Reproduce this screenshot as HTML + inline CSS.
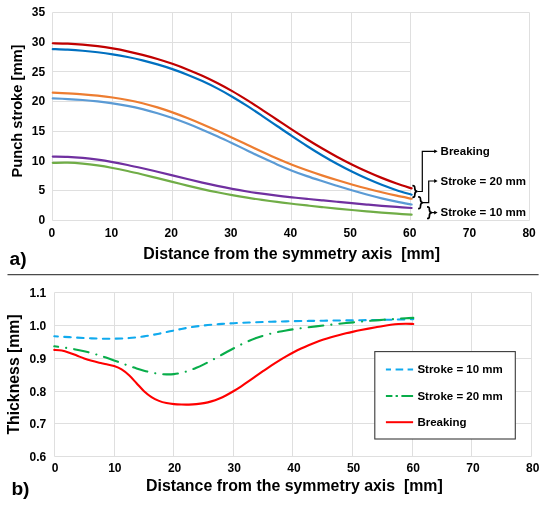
<!DOCTYPE html>
<html><head><meta charset="utf-8"><title>Figure</title>
<style>
html,body{margin:0;padding:0;background:#fff;}
body{width:550px;height:508px;overflow:hidden;}
svg{display:block;}
text{font-family:"Liberation Sans",Arial,sans-serif;font-weight:bold;fill:#000;}
.tk{font-size:12px;}
.an{font-size:11.5px;}
</style></head><body>
<svg width="550" height="508" viewBox="0 0 550 508">
<rect x="0" y="0" width="550" height="508" fill="#fff"/>

<g stroke="#DFDFDF" stroke-width="1" fill="none">
<line x1="112.50" y1="12.50" x2="112.50" y2="220.50"/>
<line x1="172.50" y1="12.50" x2="172.50" y2="220.50"/>
<line x1="231.50" y1="12.50" x2="231.50" y2="220.50"/>
<line x1="291.50" y1="12.50" x2="291.50" y2="220.50"/>
<line x1="351.50" y1="12.50" x2="351.50" y2="220.50"/>
<line x1="410.50" y1="12.50" x2="410.50" y2="220.50"/>
<line x1="52.50" y1="220.50" x2="529.50" y2="220.50"/>
<line x1="52.50" y1="190.50" x2="410.50" y2="190.50"/>
<line x1="52.50" y1="161.50" x2="410.50" y2="161.50"/>
<line x1="52.50" y1="131.50" x2="410.50" y2="131.50"/>
<line x1="52.50" y1="101.50" x2="410.50" y2="101.50"/>
<line x1="52.50" y1="71.50" x2="410.50" y2="71.50"/>
<line x1="52.50" y1="42.50" x2="410.50" y2="42.50"/>
<line x1="52.50" y1="12.50" x2="529.50" y2="12.50"/>
<line x1="52.50" y1="12.50" x2="52.50" y2="220.50"/>
<line x1="529.50" y1="12.50" x2="529.50" y2="220.50"/>
</g>
<g fill="none" stroke-width="2.2" stroke-linecap="round" stroke-linejoin="round">
<path d="M52.80,162.86 C55.29,162.84 62.77,162.59 67.75,162.72 C72.73,162.85 77.72,163.19 82.70,163.64 C87.68,164.09 92.67,164.72 97.65,165.44 C102.63,166.16 107.62,167.03 112.60,167.96 C117.58,168.89 122.57,169.94 127.55,171.02 C132.53,172.11 137.52,173.29 142.50,174.47 C147.48,175.66 152.47,176.90 157.45,178.13 C162.43,179.37 167.41,180.64 172.40,181.87 C177.38,183.11 182.36,184.36 187.35,185.56 C192.33,186.76 197.31,187.94 202.30,189.06 C207.28,190.18 212.26,191.25 217.25,192.26 C222.23,193.27 227.21,194.23 232.20,195.13 C237.18,196.04 242.16,196.88 247.15,197.68 C252.13,198.48 257.11,199.22 262.10,199.93 C267.08,200.65 272.06,201.31 277.05,201.95 C282.03,202.59 287.01,203.19 292.00,203.78 C296.98,204.36 301.96,204.91 306.95,205.46 C311.93,206.00 316.91,206.52 321.90,207.04 C326.88,207.56 331.86,208.07 336.85,208.56 C341.83,209.06 346.81,209.54 351.80,210.01 C356.78,210.48 361.76,210.93 366.75,211.36 C371.73,211.80 376.71,212.21 381.70,212.60 C386.68,212.99 391.66,213.36 396.64,213.69 C401.63,214.03 409.10,214.47 411.59,214.62" stroke="#70AD47"/>
<path d="M52.80,156.54 C55.29,156.59 62.77,156.58 67.75,156.81 C72.73,157.04 77.72,157.42 82.70,157.91 C87.68,158.39 92.67,159.01 97.65,159.71 C102.63,160.42 107.62,161.24 112.60,162.12 C117.58,163.00 122.57,163.98 127.55,165.00 C132.53,166.02 137.52,167.13 142.50,168.25 C147.48,169.37 152.47,170.56 157.45,171.75 C162.43,172.93 167.41,174.16 172.40,175.37 C177.38,176.59 182.36,177.82 187.35,179.02 C192.33,180.22 197.31,181.42 202.30,182.56 C207.28,183.71 212.26,184.84 217.25,185.89 C222.23,186.95 227.21,187.96 232.20,188.89 C237.18,189.82 242.16,190.68 247.15,191.48 C252.13,192.28 257.11,193.01 262.10,193.69 C267.08,194.38 272.06,195.01 277.05,195.62 C282.03,196.22 287.01,196.77 292.00,197.31 C296.98,197.85 301.96,198.36 306.95,198.86 C311.93,199.36 316.91,199.85 321.90,200.33 C326.88,200.82 331.86,201.30 336.85,201.78 C341.83,202.26 346.81,202.73 351.80,203.19 C356.78,203.65 361.76,204.11 366.75,204.54 C371.73,204.98 376.71,205.41 381.70,205.81 C386.68,206.21 391.66,206.60 396.64,206.96 C401.63,207.32 409.10,207.81 411.59,207.98" stroke="#7030A0"/>
<path d="M52.80,98.34 C55.29,98.46 62.77,98.76 67.75,99.03 C72.73,99.31 77.72,99.62 82.70,100.01 C87.68,100.41 92.67,100.85 97.65,101.39 C102.63,101.94 107.62,102.55 112.60,103.29 C117.58,104.02 122.57,104.85 127.55,105.81 C132.53,106.78 137.52,107.86 142.50,109.09 C147.48,110.32 152.47,111.70 157.45,113.19 C162.43,114.69 167.41,116.33 172.40,118.06 C177.38,119.79 182.36,121.65 187.35,123.59 C192.33,125.53 197.31,127.58 202.30,129.69 C207.28,131.81 212.26,134.01 217.25,136.27 C222.23,138.52 227.21,140.86 232.20,143.22 C237.18,145.57 242.16,148.01 247.15,150.40 C252.13,152.79 257.11,155.23 262.10,157.57 C267.08,159.90 272.06,162.23 277.05,164.41 C282.03,166.59 287.01,168.70 292.00,170.65 C296.98,172.60 301.96,174.37 306.95,176.10 C311.93,177.84 316.91,179.44 321.90,181.06 C326.88,182.67 331.86,184.25 336.85,185.80 C341.83,187.34 346.81,188.85 351.80,190.31 C356.78,191.76 361.76,193.17 366.75,194.51 C371.73,195.84 376.71,197.13 381.70,198.32 C386.68,199.52 391.66,200.65 396.64,201.67 C401.63,202.70 409.10,204.01 411.59,204.47" stroke="#5B9BD5"/>
<path d="M52.80,92.64 C55.29,92.77 62.77,93.10 67.75,93.38 C72.73,93.67 77.72,93.96 82.70,94.34 C87.68,94.73 92.67,95.14 97.65,95.67 C102.63,96.20 107.62,96.78 112.60,97.50 C117.58,98.22 122.57,99.02 127.55,99.98 C132.53,100.94 137.52,102.02 142.50,103.25 C147.48,104.49 152.47,105.89 157.45,107.41 C162.43,108.93 167.41,110.61 172.40,112.37 C177.38,114.14 182.36,116.04 187.35,118.01 C192.33,119.98 197.31,122.07 202.30,124.20 C207.28,126.34 212.26,128.56 217.25,130.82 C222.23,133.07 227.21,135.40 232.20,137.73 C237.18,140.06 242.16,142.45 247.15,144.80 C252.13,147.15 257.11,149.52 262.10,151.81 C267.08,154.10 272.06,156.38 277.05,158.53 C282.03,160.69 287.01,162.78 292.00,164.74 C296.98,166.70 301.96,168.52 306.95,170.29 C311.93,172.05 316.91,173.70 321.90,175.33 C326.88,176.95 331.86,178.52 336.85,180.04 C341.83,181.56 346.81,183.03 351.80,184.44 C356.78,185.86 361.76,187.22 366.75,188.53 C371.73,189.83 376.71,191.08 381.70,192.27 C386.68,193.47 391.66,194.60 396.64,195.68 C401.63,196.75 409.10,198.21 411.59,198.72" stroke="#ED7D31"/>
<path d="M52.80,49.09 C55.29,49.19 62.77,49.43 67.75,49.70 C72.73,49.98 77.72,50.32 82.70,50.75 C87.68,51.18 92.67,51.68 97.65,52.28 C102.63,52.89 107.62,53.57 112.60,54.36 C117.58,55.15 122.57,56.03 127.55,57.02 C132.53,58.02 137.52,59.11 142.50,60.33 C147.48,61.55 152.47,62.88 157.45,64.34 C162.43,65.80 167.41,67.37 172.40,69.09 C177.38,70.81 182.36,72.66 187.35,74.65 C192.33,76.65 197.31,78.78 202.30,81.07 C207.28,83.36 212.26,85.79 217.25,88.39 C222.23,90.99 227.21,93.76 232.20,96.68 C237.18,99.60 242.16,102.72 247.15,105.91 C252.13,109.10 257.11,112.45 262.10,115.80 C267.08,119.15 272.06,122.60 277.05,126.00 C282.03,129.39 287.01,132.84 292.00,136.17 C296.98,139.50 301.96,142.81 306.95,145.99 C311.93,149.17 316.91,152.28 321.90,155.25 C326.88,158.22 331.86,161.08 336.85,163.80 C341.83,166.52 346.81,169.12 351.80,171.58 C356.78,174.05 361.76,176.38 366.75,178.58 C371.73,180.79 376.71,182.86 381.70,184.79 C386.68,186.72 391.66,188.52 396.64,190.17 C401.63,191.82 409.10,193.95 411.59,194.71" stroke="#0070C0"/>
<path d="M52.80,43.26 C55.29,43.31 62.77,43.39 67.75,43.61 C72.73,43.83 77.72,44.16 82.70,44.59 C87.68,45.02 92.67,45.56 97.65,46.20 C102.63,46.84 107.62,47.59 112.60,48.44 C117.58,49.30 122.57,50.26 127.55,51.32 C132.53,52.38 137.52,53.55 142.50,54.83 C147.48,56.11 152.47,57.48 157.45,58.98 C162.43,60.48 167.41,62.09 172.40,63.83 C177.38,65.57 182.36,67.42 187.35,69.41 C192.33,71.41 197.31,73.53 202.30,75.79 C207.28,78.06 212.26,80.46 217.25,83.02 C222.23,85.58 227.21,88.30 232.20,91.15 C237.18,94.01 242.16,97.06 247.15,100.17 C252.13,103.28 257.11,106.54 262.10,109.80 C267.08,113.07 272.06,116.43 277.05,119.74 C282.03,123.04 287.01,126.39 292.00,129.64 C296.98,132.89 301.96,136.12 306.95,139.23 C311.93,142.34 316.91,145.39 321.90,148.30 C326.88,151.22 331.86,154.04 336.85,156.74 C341.83,159.43 346.81,162.02 351.80,164.49 C356.78,166.95 361.76,169.31 366.75,171.54 C371.73,173.78 376.71,175.90 381.70,177.89 C386.68,179.89 391.66,181.77 396.64,183.52 C401.63,185.28 409.10,187.61 411.59,188.42" stroke="#C00000"/>
</g>
<g class="tk" text-anchor="end">
<text x="45.2" y="224.20">0</text>
<text x="45.2" y="194.48">5</text>
<text x="45.2" y="164.76">10</text>
<text x="45.2" y="135.04">15</text>
<text x="45.2" y="105.31">20</text>
<text x="45.2" y="75.59">25</text>
<text x="45.2" y="45.87">30</text>
<text x="45.2" y="16.15">35</text>
</g>
<g class="tk" text-anchor="middle">
<text x="51.90" y="237.3">0</text>
<text x="111.55" y="237.3">10</text>
<text x="171.20" y="237.3">20</text>
<text x="230.85" y="237.3">30</text>
<text x="290.50" y="237.3">40</text>
<text x="350.15" y="237.3">50</text>
<text x="409.80" y="237.3">60</text>
<text x="469.45" y="237.3">70</text>
<text x="529.10" y="237.3">80</text>
</g>
<text transform="translate(21.5,177.6) rotate(-90)" font-size="14.7">Punch stroke [mm]</text>
<text x="143.3" y="258.6" font-size="15.9" xml:space="preserve" style="white-space:pre">Distance from the symmetry axis  [mm]</text>
<text x="9.5" y="265.4" font-size="19.2">a)</text>
<g class="an">
<text x="440.6" y="155">Breaking</text>
<text x="440.6" y="185.4">Stroke = 20 mm</text>
<text x="440.6" y="216.4">Stroke = 10 mm</text>
</g>
<g fill="none" stroke="#000" stroke-width="1.2" stroke-linejoin="miter">
<path d="M412.40,185.60 C414.80,185.60 414.80,186.56 414.80,188.80 L414.80,188.25 C414.80,190.49 415.90,191.45 417.40,191.45 C415.90,191.45 414.80,192.41 414.80,194.65 L414.80,194.10 C414.80,196.34 414.80,197.30 412.40,197.30" stroke-width="1.7"/>
<path d="M418.10,196.90 C420.50,196.90 420.50,197.86 420.50,200.10 L420.50,199.55 C420.50,201.79 421.60,202.75 423.10,202.75 C421.60,202.75 420.50,203.71 420.50,205.95 L420.50,205.40 C420.50,207.64 420.50,208.60 418.10,208.60" stroke-width="1.7"/>
<path d="M427.00,206.80 C429.40,206.80 429.40,207.76 429.40,210.00 L429.40,209.45 C429.40,211.69 430.50,212.65 432.00,212.65 C430.50,212.65 429.40,213.61 429.40,215.85 L429.40,215.30 C429.40,217.54 429.40,218.50 427.00,218.50" stroke-width="1.7"/>
<path d="M417.2,191.5 H422.3 V151.3 H435"/>
<path d="M422.9,202.7 H428.7 V181.0 H435"/>
<path d="M431.8,212.6 H435"/>
</g>
<g fill="#000" stroke="none">
<path d="M437.6,151.30 l-3.4,-1.9 v3.8 z"/>
<path d="M437.6,181.00 l-3.4,-1.9 v3.8 z"/>
<path d="M437.6,212.60 l-3.4,-1.9 v3.8 z"/>
</g>
<line x1="7.5" y1="274.6" x2="538.6" y2="274.6" stroke="#4a4a4a" stroke-width="1.1"/>
<g stroke="#DFDFDF" stroke-width="1" fill="none">
<line x1="54.50" y1="292.50" x2="54.50" y2="456.50"/>
<line x1="114.50" y1="292.50" x2="114.50" y2="456.50"/>
<line x1="173.50" y1="292.50" x2="173.50" y2="456.50"/>
<line x1="233.50" y1="292.50" x2="233.50" y2="456.50"/>
<line x1="292.50" y1="292.50" x2="292.50" y2="456.50"/>
<line x1="352.50" y1="292.50" x2="352.50" y2="456.50"/>
<line x1="412.50" y1="292.50" x2="412.50" y2="456.50"/>
<line x1="471.50" y1="292.50" x2="471.50" y2="456.50"/>
<line x1="531.50" y1="292.50" x2="531.50" y2="456.50"/>
<line x1="54.50" y1="456.50" x2="531.50" y2="456.50"/>
<line x1="54.50" y1="423.50" x2="531.50" y2="423.50"/>
<line x1="54.50" y1="391.50" x2="531.50" y2="391.50"/>
<line x1="54.50" y1="358.50" x2="531.50" y2="358.50"/>
<line x1="54.50" y1="325.50" x2="531.50" y2="325.50"/>
<line x1="54.50" y1="292.50" x2="531.50" y2="292.50"/>
</g>
<g fill="none" stroke-width="2.1" stroke-linecap="round" stroke-linejoin="round">
<path d="M54.30,336.32 C55.55,336.39 59.29,336.59 61.78,336.73 C64.27,336.86 66.76,337.02 69.26,337.16 C71.75,337.31 74.24,337.46 76.74,337.60 C79.23,337.74 81.72,337.88 84.21,338.00 C86.71,338.13 89.20,338.25 91.69,338.35 C94.19,338.45 96.68,338.53 99.17,338.60 C101.66,338.66 104.16,338.71 106.65,338.72 C109.14,338.74 111.64,338.74 114.13,338.69 C116.62,338.65 119.11,338.59 121.61,338.48 C124.10,338.37 126.59,338.23 129.09,338.04 C131.58,337.86 134.07,337.64 136.57,337.36 C139.06,337.09 141.55,336.77 144.04,336.40 C146.54,336.03 149.03,335.60 151.52,335.14 C154.02,334.69 156.51,334.18 159.00,333.67 C161.49,333.16 163.99,332.62 166.48,332.09 C168.97,331.55 171.47,331.00 173.96,330.47 C176.45,329.95 178.94,329.42 181.44,328.93 C183.93,328.44 186.42,327.97 188.92,327.55 C191.41,327.13 193.90,326.75 196.39,326.40 C198.89,326.06 201.38,325.75 203.87,325.47 C206.37,325.19 208.86,324.95 211.35,324.73 C213.84,324.50 216.34,324.31 218.83,324.12 C221.32,323.94 223.82,323.78 226.31,323.63 C228.80,323.48 231.29,323.35 233.79,323.22 C236.28,323.09 238.77,322.96 241.27,322.85 C243.76,322.73 246.25,322.62 248.74,322.52 C251.24,322.41 253.73,322.31 256.22,322.22 C258.72,322.13 261.21,322.04 263.70,321.96 C266.20,321.88 268.69,321.80 271.18,321.73 C273.67,321.66 276.17,321.59 278.66,321.52 C281.15,321.46 283.65,321.40 286.14,321.34 C288.63,321.29 291.12,321.24 293.62,321.18 C296.11,321.13 298.60,321.09 301.10,321.04 C303.59,321.00 306.08,320.96 308.57,320.92 C311.07,320.88 313.56,320.84 316.05,320.80 C318.55,320.77 321.04,320.73 323.53,320.70 C326.02,320.67 328.52,320.63 331.01,320.60 C333.50,320.57 336.00,320.54 338.49,320.51 C340.98,320.48 343.47,320.45 345.97,320.41 C348.46,320.38 350.95,320.35 353.45,320.32 C355.94,320.28 358.43,320.25 360.92,320.21 C363.42,320.18 365.91,320.14 368.40,320.10 C370.90,320.06 373.39,320.02 375.88,319.98 C378.37,319.94 380.87,319.89 383.36,319.84 C385.85,319.80 388.35,319.74 390.84,319.69 C393.33,319.63 395.83,319.58 398.32,319.51 C400.81,319.45 403.30,319.39 405.80,319.32 C408.29,319.25 412.03,319.13 413.28,319.09" stroke="#10AAEE" stroke-dasharray="6.5 6.38" stroke-dashoffset="2.9"/>
<path d="M54.30,346.31 C55.55,346.46 59.29,346.88 61.78,347.22 C64.27,347.55 66.76,347.92 69.26,348.33 C71.75,348.74 74.24,349.19 76.74,349.68 C79.23,350.17 81.72,350.70 84.21,351.28 C86.71,351.86 89.20,352.48 91.69,353.16 C94.19,353.83 96.68,354.56 99.17,355.33 C101.66,356.10 104.16,356.94 106.65,357.80 C109.14,358.65 111.64,359.56 114.13,360.46 C116.62,361.37 119.11,362.30 121.61,363.21 C124.10,364.11 126.59,365.04 129.09,365.91 C131.58,366.78 134.07,367.65 136.57,368.45 C139.06,369.24 141.55,370.02 144.04,370.70 C146.54,371.38 149.03,372.02 151.52,372.54 C154.02,373.07 156.51,373.52 159.00,373.83 C161.49,374.14 163.99,374.36 166.48,374.41 C168.97,374.46 171.47,374.39 173.96,374.13 C176.45,373.87 178.94,373.44 181.44,372.86 C183.93,372.29 186.42,371.54 188.92,370.69 C191.41,369.85 193.90,368.85 196.39,367.79 C198.89,366.73 201.38,365.55 203.87,364.33 C206.37,363.11 208.86,361.79 211.35,360.47 C213.84,359.15 216.34,357.76 218.83,356.40 C221.32,355.03 223.82,353.63 226.31,352.27 C228.80,350.91 231.29,349.54 233.79,348.24 C236.28,346.93 238.77,345.64 241.27,344.44 C243.76,343.24 246.25,342.08 248.74,341.02 C251.24,339.96 253.73,338.98 256.22,338.08 C258.72,337.17 261.21,336.35 263.70,335.60 C266.20,334.84 268.69,334.16 271.18,333.53 C273.67,332.91 276.17,332.35 278.66,331.83 C281.15,331.31 283.65,330.85 286.14,330.41 C288.63,329.98 291.12,329.59 293.62,329.22 C296.11,328.85 298.60,328.51 301.10,328.18 C303.59,327.85 306.08,327.55 308.57,327.24 C311.07,326.93 313.56,326.63 316.05,326.34 C318.55,326.04 321.04,325.75 323.53,325.47 C326.02,325.18 328.52,324.90 331.01,324.63 C333.50,324.36 336.00,324.09 338.49,323.83 C340.98,323.57 343.47,323.31 345.97,323.06 C348.46,322.81 350.95,322.57 353.45,322.33 C355.94,322.09 358.43,321.86 360.92,321.64 C363.42,321.41 365.91,321.19 368.40,320.98 C370.90,320.76 373.39,320.56 375.88,320.36 C378.37,320.16 380.87,319.96 383.36,319.78 C385.85,319.59 388.35,319.41 390.84,319.23 C393.33,319.06 395.83,318.89 398.32,318.73 C400.81,318.57 403.30,318.42 405.80,318.27 C408.29,318.12 412.03,317.92 413.28,317.85" stroke="#08AD4A" stroke-dasharray="14.75 8.04 0.1 8.04" stroke-dashoffset="10.9"/>
<path d="M54.30,349.89 C55.55,350.00 59.29,350.10 61.78,350.57 C64.27,351.03 66.76,351.86 69.26,352.69 C71.75,353.52 74.24,354.60 76.74,355.56 C79.23,356.53 81.72,357.60 84.21,358.49 C86.71,359.37 89.20,360.16 91.69,360.86 C94.19,361.57 96.68,362.14 99.17,362.71 C101.66,363.27 104.16,363.70 106.65,364.27 C109.14,364.84 111.64,365.25 114.13,366.11 C116.62,366.98 119.11,367.94 121.61,369.47 C124.10,371.00 126.59,373.00 129.09,375.29 C131.58,377.58 134.07,380.55 136.57,383.21 C139.06,385.87 141.55,388.91 144.04,391.23 C146.54,393.54 149.03,395.49 151.52,397.10 C154.02,398.71 156.51,399.89 159.00,400.89 C161.49,401.89 163.99,402.54 166.48,403.08 C168.97,403.62 171.47,403.89 173.96,404.14 C176.45,404.38 178.94,404.47 181.44,404.55 C183.93,404.62 186.42,404.65 188.92,404.59 C191.41,404.52 193.90,404.41 196.39,404.17 C198.89,403.92 201.38,403.61 203.87,403.14 C206.37,402.67 208.86,402.11 211.35,401.37 C213.84,400.63 216.34,399.75 218.83,398.72 C221.32,397.69 223.82,396.50 226.31,395.21 C228.80,393.93 231.29,392.50 233.79,391.02 C236.28,389.53 238.77,387.93 241.27,386.30 C243.76,384.67 246.25,382.95 248.74,381.23 C251.24,379.51 253.73,377.73 256.22,375.97 C258.72,374.22 261.21,372.44 263.70,370.71 C266.20,368.98 268.69,367.25 271.18,365.60 C273.67,363.95 276.17,362.35 278.66,360.81 C281.15,359.27 283.65,357.79 286.14,356.37 C288.63,354.95 291.12,353.59 293.62,352.29 C296.11,350.99 298.60,349.75 301.10,348.57 C303.59,347.39 306.08,346.28 308.57,345.22 C311.07,344.17 313.56,343.18 316.05,342.24 C318.55,341.31 321.04,340.43 323.53,339.60 C326.02,338.77 328.52,338.00 331.01,337.26 C333.50,336.52 336.00,335.83 338.49,335.18 C340.98,334.52 343.47,333.90 345.97,333.31 C348.46,332.72 350.95,332.17 353.45,331.63 C355.94,331.09 358.43,330.58 360.92,330.09 C363.42,329.59 365.91,329.11 368.40,328.64 C370.90,328.17 373.39,327.71 375.88,327.26 C378.37,326.81 380.87,326.35 383.36,325.94 C385.85,325.54 388.35,325.14 390.84,324.82 C393.33,324.50 395.83,324.21 398.32,324.02 C400.81,323.83 403.30,323.70 405.80,323.68 C408.29,323.67 412.03,323.89 413.28,323.93" stroke="#FF0000"/>
</g>
<g class="tk" text-anchor="end">
<text x="46.2" y="460.50">0.6</text>
<text x="46.2" y="427.50">0.7</text>
<text x="46.2" y="395.50">0.8</text>
<text x="46.2" y="362.50">0.9</text>
<text x="46.2" y="329.50">1.0</text>
<text x="46.2" y="296.50">1.1</text>
</g>
<g class="tk" text-anchor="middle">
<text x="55.20" y="471.8">0</text>
<text x="114.88" y="471.8">10</text>
<text x="174.56" y="471.8">20</text>
<text x="234.24" y="471.8">30</text>
<text x="293.92" y="471.8">40</text>
<text x="353.60" y="471.8">50</text>
<text x="413.28" y="471.8">60</text>
<text x="472.96" y="471.8">70</text>
<text x="532.64" y="471.8">80</text>
</g>
<text transform="translate(18.9,434.6) rotate(-90)" font-size="15.8">Thickness [mm]</text>
<text x="146" y="491.2" font-size="15.9" xml:space="preserve" style="white-space:pre">Distance from the symmetry axis  [mm]</text>
<text x="11.4" y="494.6" font-size="19.2">b)</text>
<rect x="374.8" y="351.6" width="140.5" height="87.4" fill="#fff" stroke="#3a3a3a" stroke-width="1.1"/>
<g fill="none" stroke-width="2.0">
<path d="M385.9,369.5 H391 M395.6,369.5 H403.2 M407.6,369.5 H413.1" stroke="#10AAEE"/>
<path d="M385.9,395.9 H392.4 M395.6,395.9 H397.9 M401.4,395.9 H413.1" stroke="#08AD4A"/>
<path d="M385.9,422.2 H413.1" stroke="#FF0000"/>
</g>
<g class="an">
<text x="417.4" y="373.3">Stroke = 10 mm</text>
<text x="417.4" y="399.6">Stroke = 20 mm</text>
<text x="417.4" y="426.2">Breaking</text>
</g>
</svg></body></html>
